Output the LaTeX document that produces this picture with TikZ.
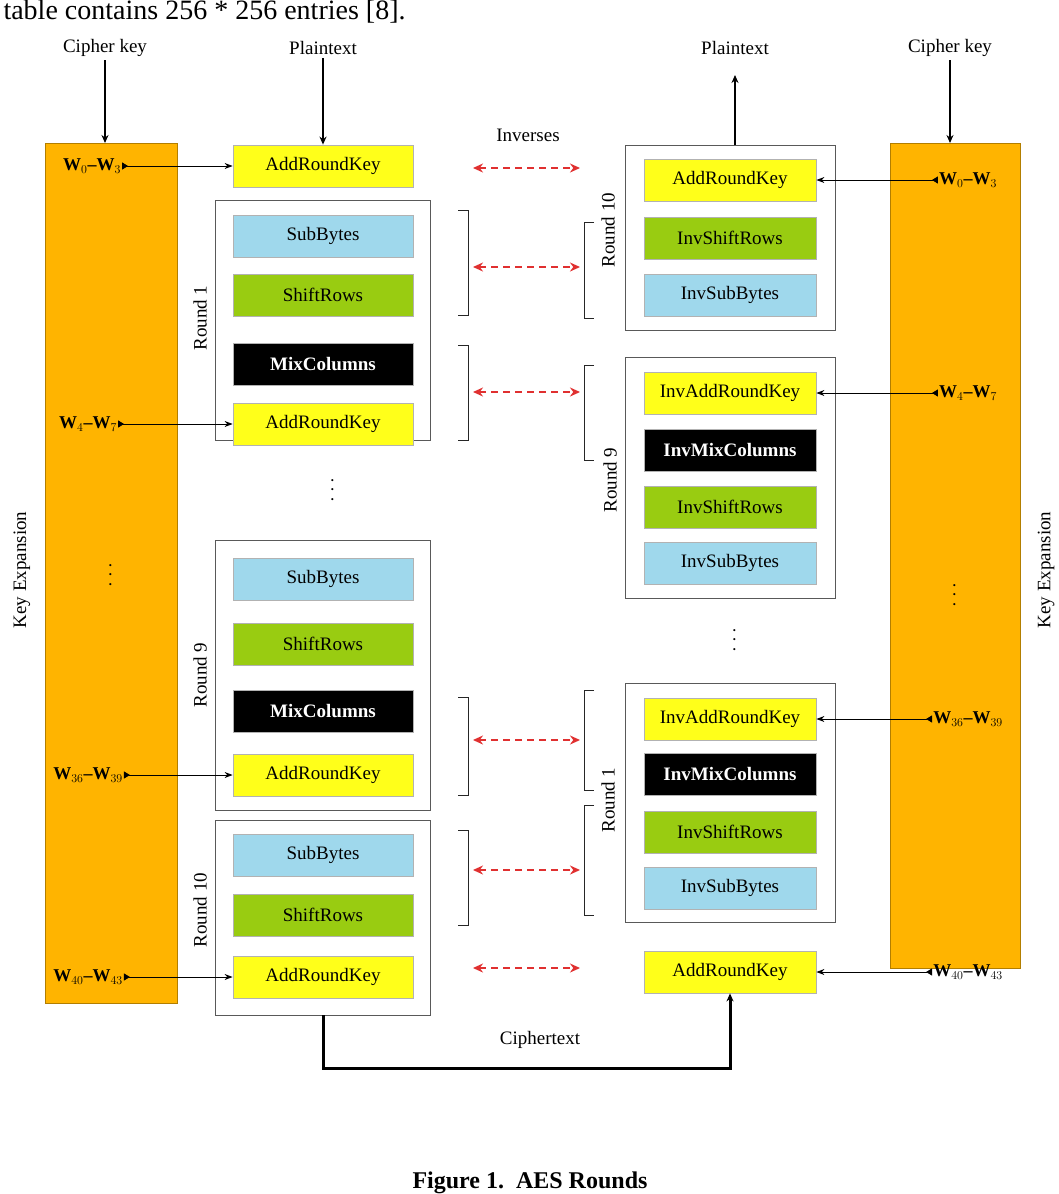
\documentclass[tikz,border=0pt]{standalone}
\usepackage{fontspec}
\setmainfont{Liberation Serif}
\usetikzlibrary{arrows.meta}
\definecolor{orng}{HTML}{FFB400}
\definecolor{yel}{HTML}{FFFF1A}
\definecolor{cyn}{HTML}{9FD8EC}
\definecolor{grn}{HTML}{99CC11}
\definecolor{rd}{HTML}{E03030}
\begin{document}
\begin{tikzpicture}[x=1pt,y=-1pt,
 bx/.style={draw=gray!60,line width=0.8pt,minimum height=42pt,inner sep=0pt,font=\fontsize{19}{20}\selectfont},
 lb/.style={bx,minimum width=180pt},
 rb/.style={bx,minimum width=172pt},
 blk/.style={fill=black,text=white,font=\fontsize{19}{20}\selectfont\bfseries},
 frm/.style={draw=gray!70!black,line width=1pt},
 kl/.style={font=\fontsize{18}{20}\selectfont\bfseries,inner sep=1pt},
 ttl/.style={font=\fontsize{19}{20}\selectfont},
 arr/.style={-{Stealth[length=8pt,width=7pt]},line width=0.9pt},
 karr/.style={{Triangle[reversed,length=6pt,width=7pt]}-{Stealth[length=8pt,width=6pt]},line width=0.9pt},
 inv/.style={{Stealth[length=10pt,width=9pt]}-{Stealth[length=10pt,width=9pt]},dash pattern=on 7pt off 5pt,rd,line width=1.6pt},
 brk/.style={line width=1pt,draw=gray!30!black}]
\useasboundingbox (0,0) rectangle (1059,1194);
\clip (0,0) rectangle (1059,1194);
\node[anchor=west,font=\fontsize{28}{30}\selectfont] (top) at (0,12) {table contains 256 * 256 entries [8].};
% orange bars
\fill[orng,draw=orng!70!black] (45,143) rectangle (177,1003);
\fill[orng,draw=orng!70!black] (890,143) rectangle (1020,968);
\node[rotate=90,ttl] (kel) at (22,570) {Key Expansion};
\node[rotate=90,ttl] (ker) at (1046,570) {Key Expansion};
\node[font=\bfseries\fontsize{22}{22}\selectfont] (dl) at (111,575) {\rotatebox{90}{$\cdots$}};
\node[font=\bfseries\fontsize{22}{22}\selectfont] (dr) at (955,595) {\rotatebox{90}{$\cdots$}};
% top labels
\node[ttl] (ck1) at (105,48) {Cipher key};
\node[ttl] (pt1) at (323,48) {Plaintext};
\node[ttl] (pt2) at (735,48) {Plaintext};
\node[ttl] (ck2) at (950,48) {Cipher key};
\coordinate (kt1) at (105,143);
\coordinate (kt2) at (950,143);
\draw[arr,line width=2pt] (ck1) -- (kt1);
\draw[arr,line width=2pt] (ck2) -- (kt2);
% left column
\node[lb,fill=yel] (a0) at (323,166) {AddRoundKey};
\draw[frm] (215,200) rectangle (430,440);
\node[lb,fill=cyn] (s1) at (323,236) {SubBytes};
\node[lb,fill=grn] (r1) at (323,295) {ShiftRows};
\node[lb,blk] (m1) at (323,364) {MixColumns};
\node[lb,fill=yel] (a1) at (323,424) {AddRoundKey};
\node[rotate=90,ttl] (rd1) at (200,318) {Round 1};
\node[font=\bfseries\fontsize{22}{22}\selectfont] (dm1) at (333,490) {\rotatebox{90}{$\cdots$}};
\draw[frm] (215,540) rectangle (430,810);
\node[lb,fill=cyn] (s9) at (323,579) {SubBytes};
\node[lb,fill=grn] (r9) at (323,644) {ShiftRows};
\node[lb,blk] (m9) at (323,711) {MixColumns};
\node[lb,fill=yel] (a9) at (323,775) {AddRoundKey};
\node[rotate=90,ttl] (rd9) at (200,675) {Round 9};
\draw[frm] (215,820) rectangle (430,1015);
\node[lb,fill=cyn] (s10) at (323,855) {SubBytes};
\node[lb,fill=grn] (r10) at (323,915) {ShiftRows};
\node[lb,fill=yel] (a10) at (323,977) {AddRoundKey};
\node[rotate=90,ttl] (rd10) at (200,910) {Round 10};
\draw[arr,line width=2pt] (pt1) -- (a0);
% right column
\draw[frm] (625,145) rectangle (835,330);
\node[rb,fill=yel] (b0) at (730,180) {AddRoundKey};
\node[rb,fill=grn] (ir10) at (730,238) {InvShiftRows};
\node[rb,fill=cyn] (is10) at (730,295) {InvSubBytes};
\node[rotate=90,ttl] (q10) at (608,230) {Round 10};
\coordinate (f10t) at (735,145);
\draw[arr,line width=2pt] (f10t) -- (735,75);
\draw[frm] (625,357) rectangle (835,598);
\node[rb,fill=yel] (b9) at (730,393) {InvAddRoundKey};
\node[rb,blk] (im9) at (730,450) {InvMixColumns};
\node[rb,fill=grn] (ir9) at (730,507) {InvShiftRows};
\node[rb,fill=cyn] (is9) at (730,563) {InvSubBytes};
\node[rotate=90,ttl] (q9) at (610,480) {Round 9};
\node[font=\bfseries\fontsize{22}{22}\selectfont] (dm2) at (735,640) {\rotatebox{90}{$\cdots$}};
\draw[frm] (625,683) rectangle (835,922);
\node[rb,fill=yel] (b1) at (730,719) {InvAddRoundKey};
\node[rb,blk] (im1) at (730,774) {InvMixColumns};
\node[rb,fill=grn] (ir1) at (730,832) {InvShiftRows};
\node[rb,fill=cyn] (is1) at (730,888) {InvSubBytes};
\node[rotate=90,ttl] (q1) at (608,800) {Round 1};
\node[rb,fill=yel] (bl) at (730,972) {AddRoundKey};
% key labels
\node[kl] (kl0) at (92,166) {W$_0$--W$_3$};
\node[kl] (kl1) at (88,424) {W$_4$--W$_7$};
\node[kl] (kl9) at (88,775) {W$_{36}$--W$_{39}$};
\node[kl] (kl10) at (88,977) {W$_{40}$--W$_{43}$};
\node[kl] (kr0) at (968,180) {W$_0$--W$_3$};
\node[kl] (kr1) at (968,393) {W$_4$--W$_7$};
\node[kl] (kr9) at (968,719) {W$_{36}$--W$_{39}$};
\node[kl] (kr10) at (968,972) {W$_{40}$--W$_{43}$};
\draw[karr] (kl0) -- (a0);
\draw[karr] (kl1) -- (a1);
\draw[karr] (kl9) -- (a9);
\draw[karr] (kl10) -- (a10);
\draw[karr] (kr0) -- (b0);
\draw[karr] (kr1) -- (b9);
\draw[karr] (kr9) -- (b1);
\draw[karr] (kr10) -- (bl);
% ciphertext
\coordinate (cb) at (323,1015);
\draw[arr,line width=3pt] (cb) -- (323,1068) -- (730,1068) -- (bl.south);
\node[ttl] (ct) at (540,1040) {Ciphertext};
% brackets
\draw[brk] (458,210) -- (468,210) -- (468,315) -- (458,315);
\draw[brk] (458,345) -- (468,345) -- (468,440) -- (458,440);
\draw[brk] (458,697) -- (468,697) -- (468,795) -- (458,795);
\draw[brk] (458,830) -- (468,830) -- (468,925) -- (458,925);
\draw[brk] (594,222) -- (584,222) -- (584,318) -- (594,318);
\draw[brk] (594,365) -- (584,365) -- (584,460) -- (594,460);
\draw[brk] (594,690) -- (584,690) -- (584,790) -- (594,790);
\draw[brk] (594,805) -- (584,805) -- (584,915) -- (594,915);
% inverses
\node[ttl] (invl) at (528,135) {Inverses};
\foreach \y/\n in {168/i0,267/i1,392/i2,740/i3,870/i4,968/i5}{
  \coordinate (\n l) at (473,\y); \coordinate (\n r) at (580,\y);
  \draw[inv] (\n l) -- (\n r);}
\node[font=\bfseries\fontsize{24}{26}\selectfont] (cap) at (530,1183) {Figure 1.\ \ AES Rounds};
\end{tikzpicture}
\end{document}
